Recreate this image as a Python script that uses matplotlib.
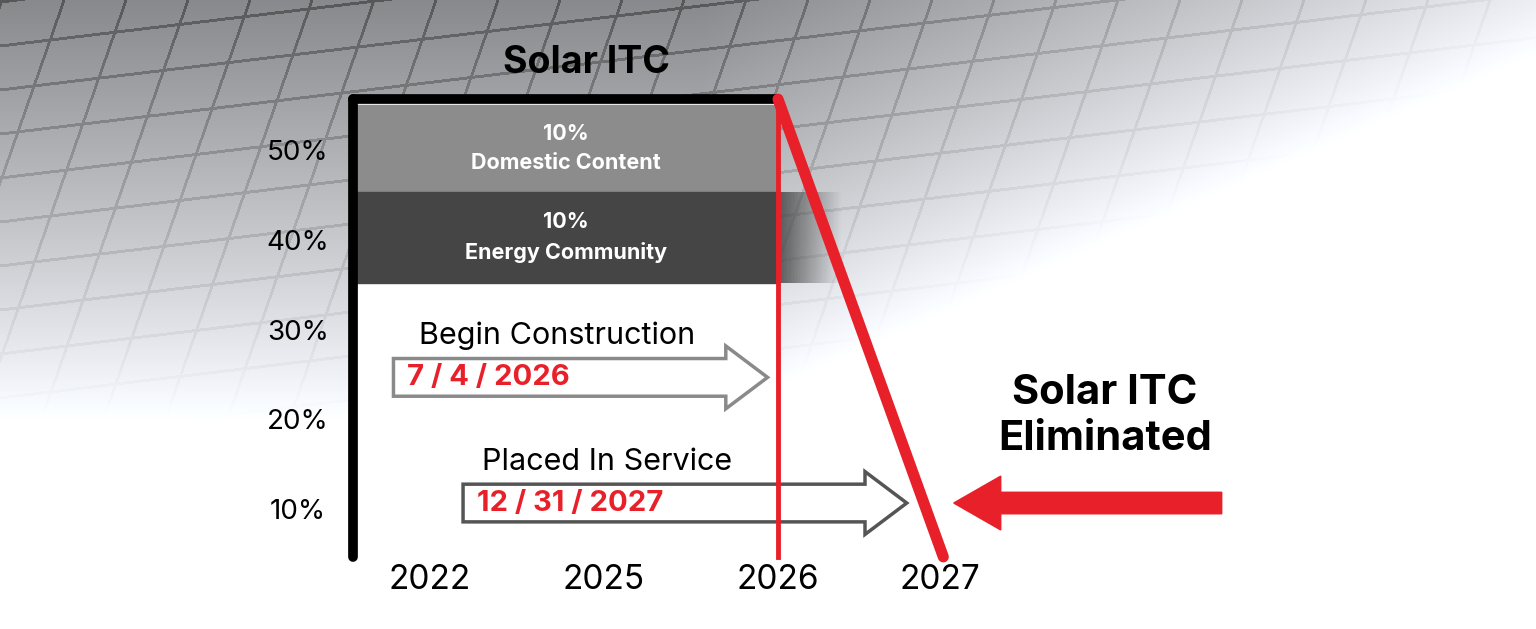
import matplotlib.pyplot as plt
import numpy as np
from matplotlib.patches import Polygon, Rectangle

plt.rcParams['font.family'] = ['Inter', 'DejaVu Sans']

# chart content
years = ['2022', '2025', '2026', '2027']
year_pos = [0, 1, 2, 2.93]
pct_ticks = [10, 20, 30, 40, 50]
bonus_labels = ['10%\nDomestic Content', '10%\nEnergy Community']
bonus_tops = [55.4, 45.6]
bonus_bottoms = [45.6, 35.5]
bonus_colors = ['#8c8c8c', '#454545']
itc_top = 56.0
axis_bottom = 5.0
# title, date, start, end, centre level, title x, outline colour
deadlines = [('Begin Construction', '7 / 4 / 2026', -0.21, 1.94, 25.0, 0.73, '#8a8a8a'),
             ('Placed In Service', '12 / 31 / 2027', 0.19, 2.74, 11.0, 1.02, '#555555')]
red = '#e8202a'

UX, UY = 174.0, 8.975
fig = plt.figure(figsize=(15.36, 6.29), dpi=100)
ax = fig.add_axes([0, 0, 1, 1])
x0, x1 = -430 / UX, (1536 - 430) / UX
y0, y1 = -(629 - 601.75) / UY, 601.75 / UY
ax.set_xlim(x0, x1)
ax.set_ylim(y0, y1)
ax.axis('off')

# background: panel-photo impression, dark at top-left fading to white
H, W = 629, 1536
yy, xx = np.mgrid[0:H, 0:W]
fade = np.clip(1 - (yy / H) * 1.5 - np.clip((xx - 700) / W, 0, 1) * 1.6, 0, 1) ** 0.9
cells = ((xx + yy * 0.35) % 62 < 3) | ((yy + xx * 0.12) % 44 < 3)
base = 1.0 - 0.45 * fade - 0.2 * fade * cells
img = np.dstack([base * 0.97, base * 0.98, base * 1.0]) + (1 - fade[..., None]) * 0.03
img = np.clip(img, 0, 1)
ax.imshow(img, extent=[x0, x1, y0, y1], aspect='auto', zorder=0)

left = -0.44
# white chart area
ax.add_patch(Rectangle((left, axis_bottom), 2 - left, itc_top - axis_bottom,
                       color='white', zorder=1))

# bonus layers
for lab, top, bot, col in zip(bonus_labels, bonus_tops, bonus_bottoms, bonus_colors):
    ax.add_patch(Rectangle((left, bot), 2 - left, top - bot, color=col, zorder=2))
    ax.text((left + 2) / 2, (top + bot) / 2, lab, ha='center', va='center',
            color='white', fontsize=15.5, fontweight='bold', linespacing=1.6, zorder=3)
# fade of the energy community band past the 2026 line
n = 40
for i in range(n):
    a = 1 - i / n
    ax.add_patch(Rectangle((2 + i * 0.36 / n, bonus_bottoms[1]), 0.36 / n,
                           bonus_tops[1] - bonus_bottoms[1], color='#454545',
                           alpha=a * 0.85, lw=0, zorder=2))

# frame
ax.plot([left, left], [axis_bottom, itc_top], color='black', lw=7,
        solid_capstyle='round', zorder=5)
ax.plot([left, 2], [itc_top, itc_top], color='black', lw=7,
        solid_capstyle='round', zorder=5)
ax.text(0.9, itc_top + 4, 'Solar ITC', ha='center', va='center',
        fontsize=27, fontweight='bold', zorder=5)

# red lines
ax.plot([2, 2], [axis_bottom, itc_top], color=red, lw=3.5, zorder=6)
ax.plot([2, 2.95], [itc_top, axis_bottom], color=red, lw=8,
        solid_capstyle='round', zorder=6)

# ticks
for p in pct_ticks:
    ax.text(-0.76, p, f'{p}%', ha='center', va='center', fontsize=20)
for y, xp in zip(years, year_pos):
    ax.text(xp, axis_bottom - 2.6, y, ha='center', va='center', fontsize=24)

# deadline arrows
for title, date, xs, xe, yc, tx, col in deadlines:
    hb, hh, hl = 2.1, 3.5, 0.24
    pts = [(xs, yc - hb), (xe - hl, yc - hb), (xe - hl, yc - hh), (xe, yc),
           (xe - hl, yc + hh), (xe - hl, yc + hb), (xs, yc + hb)]
    ax.add_patch(Polygon(pts, closed=True, facecolor='white', edgecolor=col,
                         lw=2.5, zorder=4))
    ax.text(xs + 0.08, yc, date, ha='left', va='center', color=red,
            fontsize=21, fontweight='bold', zorder=5)
    ax.text(tx, yc + 4.6, title, ha='center', va='center', fontsize=22, zorder=5)

# eliminated arrow
ya = 11.0
pts = [(3.01, ya), (3.28, ya + 3.0), (3.28, ya + 1.2), (4.55, ya + 1.2),
       (4.55, ya - 1.2), (3.28, ya - 1.2), (3.28, ya - 3.0)]
ax.add_patch(Polygon(pts, closed=True, color=red, zorder=5))
ax.text(3.88, 20.7, 'Solar ITC\nEliminated', ha='center', va='center',
        fontsize=30, fontweight='bold', linespacing=1.25, zorder=5)

fig.savefig('out.png', dpi=100)
